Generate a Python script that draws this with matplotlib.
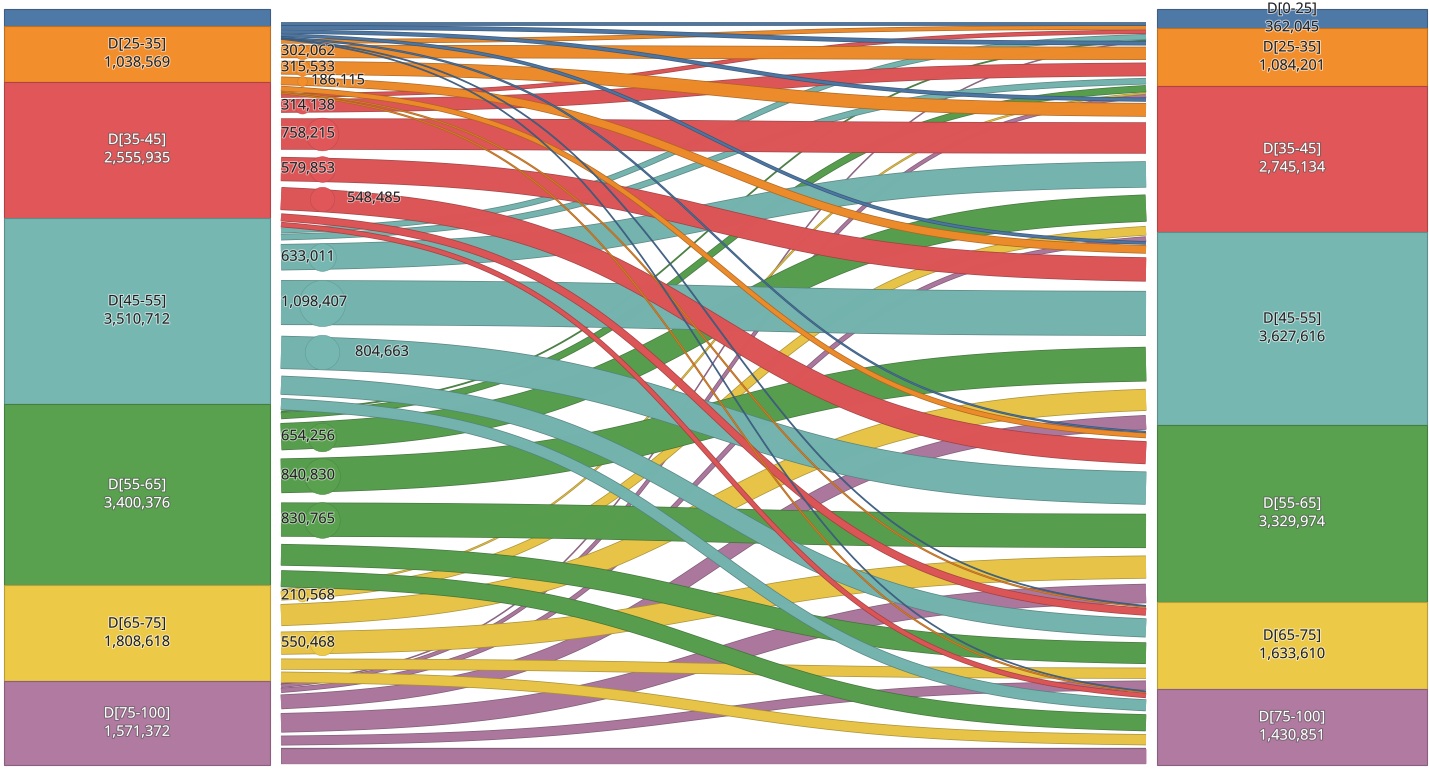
import numpy as np
import matplotlib.pyplot as plt
import matplotlib.patheffects as pe
from matplotlib.colors import to_rgb

plt.rcParams['font.family'] = ['Noto Sans', 'DejaVu Sans']

cats = ['D[0-25]', 'D[25-35]', 'D[35-45]', 'D[45-55]', 'D[55-65]', 'D[65-75]', 'D[75-100]']
colors = ['#4e79a7', '#f28e2b', '#e15759', '#76b7b2', '#59a14f', '#edc948', '#b07aa1']
dark_text = [True, True, False, True, False, True, False]

left_totals = [327849, 1038569, 2555935, 3510712, 3400376, 1808618, 1571372]
right_totals = [362045, 1084201, 2745134, 3627616, 3329974, 1633610, 1430851]

# rows = from (left), columns = to (right)
flows = np.array([
    [60000, 85000, 75000, 60000, 25000, 12000, 10849],
    [85000, 302062, 315533, 186115, 109859, 20000, 20000],
    [80000, 314138, 758215, 579853, 548485, 170000, 105244],
    [120000, 135000, 633011, 1098407, 804663, 449631, 270000],
    [12000, 150000, 654256, 840830, 830765, 515000, 397525],
    [0, 25000, 210568, 522582, 550468, 250000, 250000],
    [5045, 73001, 98551, 339829, 460734, 216979, 377233],
])

# flows that carry a value label: (from, to, label x)
labeled = [(1, 1, 281), (1, 2, 281), (1, 3, 311), (2, 1, 281), (2, 2, 281),
           (2, 3, 281), (2, 4, 347), (3, 2, 281), (3, 3, 281), (3, 4, 355),
           (4, 2, 281), (4, 3, 281), (4, 4, 281), (5, 2, 281), (5, 4, 281)]

fig = plt.figure(figsize=(14.29, 7.71), dpi=100)
ax = fig.add_axes([0, 0, 1, 1])
ax.set_xlim(0, 1429)
ax.set_ylim(771, 0)
ax.axis('off')


def darker(c, f=0.78):
    r, g, b = to_rgb(c)
    return (r * f, g * f, b * f)


# category boxes
box_top, box_bot = 9, 765
for totals, x0, x1 in [(left_totals, 4, 270), (right_totals, 1157, 1427)]:
    sc = (box_bot - box_top) / sum(totals)
    y = box_top
    for i, v in enumerate(totals):
        h = v * sc
        ax.add_patch(plt.Rectangle((x0, y), x1 - x0, h, facecolor=colors[i],
                                   edgecolor=darker(colors[i]), lw=0.8, zorder=1))
        if h > 18.5:
            tc = '#222222' if dark_text[i] else 'white'
            hc = 'white' if dark_text[i] else '#555555'
            ax.text((x0 + x1) / 2, y + h / 2, f"{cats[i]}\n{v:,}", ha='center', va='center',
                    fontsize=10.5, color=tc, linespacing=1.3, zorder=5,
                    path_effects=[pe.withStroke(linewidth=1.5, foreground=hc, alpha=0.6)])
        y += h

# flow bands
fl_top, fl_bot = 22, 766
xl, xr = 281, 1146
sc = (fl_bot - fl_top) / flows.sum()
n = len(cats)

left_c = np.zeros((n, n))
cum = 0
for i in range(n):
    for j in range(n):
        left_c[i, j] = fl_top + (cum + flows[i, j] / 2) * sc
        cum += flows[i, j]
right_c = np.zeros((n, n))
cum = 0
for j in range(n):
    for i in range(n):
        right_c[i, j] = fl_top + (cum + flows[i, j] / 2) * sc
        cum += flows[i, j]

t = np.linspace(0, 1, 300)
k = 8
s = 1 / (1 + np.exp(-k * (t - 0.5)))
s = (s - s[0]) / (s[-1] - s[0])
xs = xl + (xr - xl) * t
px2pt = 72 / 100

for i in range(n - 1, -1, -1):
    for j in range(n):
        v = flows[i, j]
        if v <= 0:
            continue
        th = 0.76 * v * sc
        ys = left_c[i, j] + (right_c[i, j] - left_c[i, j]) * s
        ax.plot(xs, ys, color=darker(colors[i], 0.72), lw=(th + 1.3) * px2pt,
                solid_capstyle='butt', zorder=2, alpha=0.95)
        ax.plot(xs, ys, color=colors[i], lw=max(th - 0.3, 0.2) * px2pt,
                solid_capstyle='butt', zorder=2, alpha=0.92)

for i, j, lx in labeled:
    v = flows[i, j]
    th = 0.76 * v * sc
    cx = 302 if v < 400000 else 322
    ax.plot([cx], [left_c[i, j]], 'o', ms=(th + 2.5) * px2pt, color=colors[i],
            mec=darker(colors[i], 0.85), mew=0.4, zorder=3)
    ax.text(lx, left_c[i, j], f"{v:,}", ha='left', va='center', fontsize=10.5,
            color='#222222', zorder=6,
            path_effects=[pe.withStroke(linewidth=1.5, foreground='white', alpha=0.5)])

fig.savefig('out.png', dpi=100)
